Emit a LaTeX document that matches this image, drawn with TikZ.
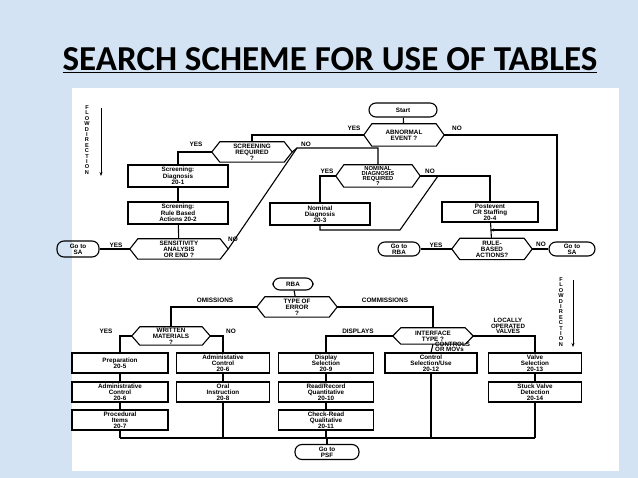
\documentclass[tikz,border=0pt]{standalone}
\usepackage{fontspec}
\setmainfont{Liberation Sans}
\newfontfamily\titlefont{Carlito}
\usetikzlibrary{arrows.meta}
\definecolor{bgblue}{HTML}{D3E3F3}
\tikzset{
  fl/.style={line width=1.1pt},
  tx/.style={font=\bfseries\fontsize{6.3}{5.9}\selectfont, align=center, inner sep=0pt},
  box/.style={tx, draw, fl, minimum width=#1, minimum height=20pt},
  hex/.style={tx, minimum width=#1, minimum height=19pt},
  oval/.style={tx, draw, fl, rounded corners=7pt, minimum width=#1, minimum height=14pt},
  lab/.style={font=\bfseries\fontsize{6.4}{6.4}\selectfont, inner sep=0pt, align=center}
}
\newcommand{\hexdraw}[1]{\draw[fl] (#1.west) -- ([xshift=8pt]#1.north west) -- ([xshift=-8pt]#1.north east) -- (#1.east) -- ([xshift=-8pt]#1.south east) -- ([xshift=8pt]#1.south west) -- cycle;}
\begin{document}
\begin{tikzpicture}[x=1pt,y=-1pt]
\fill[bgblue] (0,0) rectangle (638,478);
\useasboundingbox (0,0) rectangle (638,478);
\fill[white] (72,88) rectangle (619,471);
\node[font=\titlefont\bfseries\fontsize{35}{35}\selectfont, inner sep=0pt] (title) at (330,60) {\underline{SEARCH SCHEME FOR USE OF TABLES}};
% flow direction
\node[lab, font=\bfseries\fontsize{5.6}{5.4}\selectfont] (fd1) at (87,140) {F\\L\\O\\W\\D\\I\\R\\E\\C\\T\\I\\O\\N};
\coordinate (fa1) at (101,108); \coordinate (fb1) at (101,176);
\draw[line width=0.8pt,-{Stealth[length=4pt]}] (fa1) -- (fb1);
\node[lab, font=\bfseries\fontsize{5.6}{5.4}\selectfont] (fd2) at (561,312) {F\\L\\O\\W\\D\\I\\R\\E\\C\\T\\I\\O\\N};
\coordinate (fa2) at (573,280); \coordinate (fb2) at (573,347);
\draw[line width=0.8pt,-{Stealth[length=4pt]}] (fa2) -- (fb2);
% top nodes
\node[oval=68pt] (start) at (403,110) {Start};
\node[hex=80pt, minimum height=22pt] (abn) at (404,135) {ABNORMAL\\EVENT ?}; \hexdraw{abn}
\node[hex=80pt, minimum height=20pt] (scr) at (252,152) {SCREENING\\REQUIRED\\?}; \hexdraw{scr}
\node[box=100pt, minimum height=22pt] (sd) at (178,176) {Screening:\\Diagnosis\\20-1};
\node[box=100pt, minimum height=22pt] (srb) at (178,213) {Screening:\\Rule Based\\Actions 20-2};
\node[hex=98pt, minimum height=20pt] (sens) at (179,249) {SENSITIVITY\\ANALYSIS\\OR END ?}; \hexdraw{sens}
\node[oval=42pt, minimum height=16pt] (gsa1) at (78,249) {Go to\\SA};
\node[hex=84pt, minimum height=22pt, font=\bfseries\fontsize{5.8}{5.2}\selectfont] (nomq) at (378,176) {NOMINAL\\DIAGNOSIS\\REQUIRED\\?}; \hexdraw{nomq}
\node[box=100pt, minimum height=22pt] (nd) at (320,214) {Nominal\\Diagnosis\\20-3};
\node[box=96pt] (pe) at (490,212) {Postevent\\CR Staffing\\20-4};
\node[hex=80pt, minimum height=21pt] (rb) at (492,249) {RULE-\\BASED\\ACTIONS?}; \hexdraw{rb}
\node[oval=42pt] (grba) at (399,249) {Go to\\RBA};
\node[oval=46pt] (gsa2) at (572,249) {Go to\\SA};
% top connectors
\coordinate (j1) at (490,230);
\coordinate (k1) at (557,230);
\coordinate (d1) at (297,148);
\coordinate (d2) at (400,230);
\coordinate (d3) at (438,176);
\draw[fl] (start) -- (abn);
\draw[fl] (abn.west) -| (scr.north);
\draw[fl,-{Stealth[length=4pt]}] (abn.east) -| (k1) -- (j1);
\draw[fl] (scr.west) -| (sd.north);
\draw[fl] (sd) -- (srb); \draw[fl] (srb) -- (sens);
\draw[fl] (sens.west) -- (gsa1.east);
\draw[fl] (sens.east) -- (d1);
\draw[fl] (scr.east) -- (d1) -| (nomq.north);
\draw[fl] (nomq.west) -| (nd.north);
\draw[fl] (nd.south) |- (d2) -- (d3);
\draw[fl] (nomq.east) -- (d3) -| (pe.north);
\draw[fl] (pe) -- (rb);
\draw[fl] (rb.west) -- (grba.east);
\draw[fl] (rb.east) -- (gsa2.west);
\node[lab] (l1) at (354,128) {YES};
\node[lab] (l2) at (457,128) {NO};
\node[lab] (l3) at (196,144) {YES};
\node[lab] (l4) at (306,144) {NO};
\node[lab] (l5) at (116,245) {YES};
\node[lab] (l6) at (233,239) {NO};
\node[lab] (l7) at (327,171) {YES};
\node[lab] (l8) at (430,171) {NO};
\node[lab] (l9) at (436,245) {YES};
\node[lab] (l10) at (541,244) {NO};
% bottom nodes
\node[oval=40pt, minimum height=12pt] (rba) at (293,284) {RBA};
\node[hex=80pt, minimum height=20pt] (toe) at (297,307) {TYPE OF\\ERROR\\?}; \hexdraw{toe}
\node[hex=78pt, minimum height=18pt] (wm) at (171,336) {WRITTEN\\MATERIALS\\?}; \hexdraw{wm}
\node[box=96pt] (p5) at (120,363) {Preparation\\20-5};
\node[box=96pt] (a6a) at (120,392) {Administrative\\Control\\20-6};
\node[box=96pt] (p7) at (120,420) {Procedural\\Items\\20-7};
\node[box=93pt] (a6b) at (223,363) {Administative\\Control\\20-6};
\node[box=93pt] (o8) at (223,392) {Oral\\Instruction\\20-8};
\node[hex=80pt, minimum height=16pt] (it) at (433,336) {INTERFACE\\TYPE ?}; \hexdraw{it}
\node[box=95pt] (ds) at (326,363) {Display\\Selection\\20-9};
\node[box=95pt] (rr) at (326,392) {Read/Record\\Quantitative\\20-10};
\node[box=95pt] (cr) at (326,420) {Check-Read\\Qualitative\\20-11};
\node[box=92pt] (cs) at (431,363) {Control\\Selection/Use\\20-12};
\node[box=93pt] (vs) at (535,363) {Valve\\Selection\\20-13};
\node[box=93pt] (sv) at (535,392) {Stuck Valve\\Detection\\20-14};
\node[oval=64pt, minimum height=15pt] (psf) at (327,452) {Go to\\PSF};
% bottom connectors
\coordinate (b1) at (120,438); \coordinate (b2) at (223,438);
\coordinate (b3) at (326,438); \coordinate (b4) at (431,438);
\coordinate (b5) at (535,438); \coordinate (b6) at (327,438);
\draw[fl] (rba) -- (toe);
\draw[fl] (toe.west) -| (wm.north);
\draw[fl] (toe.east) -| (it.north);
\draw[fl] (wm.west) -| (p5.north);
\draw[fl] (wm.east) -| (a6b.north);
\draw[fl] (p5) -- (a6a); \draw[fl] (a6a) -- (p7); \draw[fl] (p7.south) -- (b1);
\draw[fl] (a6b) -- (o8); \draw[fl] (o8.south) -- (b2);
\draw[fl] (it.west) -| (ds.north);
\draw[fl] (ds) -- (rr); \draw[fl] (rr) -- (cr); \draw[fl] (cr.south) -- (b3);
\draw[fl] (it.south) -- (cs.north); \draw[fl] (cs.south) -- (b4);
\draw[fl] (it.east) -| (vs.north);
\draw[fl] (vs) -- (sv); \draw[fl] (sv.south) -- (b5);
\draw[fl] (b1) -- (b5);
\draw[fl] (b6) -- (psf.north);
\node[lab] (m1) at (215,300) {OMISSIONS};
\node[lab] (m2) at (385,300) {COMMISSIONS};
\node[lab] (m3) at (106,331) {YES};
\node[lab] (m4) at (231,331) {NO};
\node[lab] (m5) at (358,331) {DISPLAYS};
\node[lab, font=\bfseries\fontsize{6.2}{5.4}\selectfont] (m6) at (508,326) {LOCALLY\\OPERATED\\VALVES};
\node[lab, align=left, anchor=north west, font=\bfseries\fontsize{6.2}{5.4}\selectfont] (m7) at (435,342) {CONTROLS\\OR MOVs};
\end{tikzpicture}
\end{document}
